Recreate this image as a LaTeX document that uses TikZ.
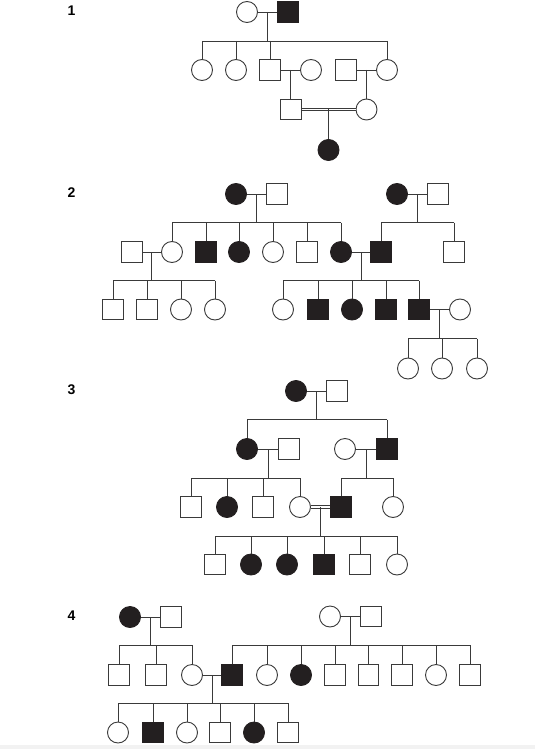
\documentclass[tikz,border=0pt]{standalone}
\usepackage{fontspec}
\setmainfont{Liberation Sans}
\usetikzlibrary{calc}
\definecolor{ln}{HTML}{3A3A3A}
\definecolor{fl}{HTML}{231F20}
\begin{document}
\begin{tikzpicture}[x=1pt,y=-1pt,
  ind/.style={draw=ln,line width=0.9pt,inner sep=0pt,fill=white},
  msq/.style={ind,rectangle,minimum size=20.5pt},
  fci/.style={ind,circle,minimum size=21pt},
  affd/.style={fill=fl,draw=fl},
  conn/.style={draw=ln,line width=0.9pt},
  cons/.style={draw=ln,line width=0.8pt,double=white,double distance=1.7pt},
  lab/.style={font=\bfseries\fontsize{14}{14}\selectfont,inner sep=0pt}]
\useasboundingbox (0,0) rectangle (535,749);
\fill[gray!10] (0,745) rectangle (535,749);

% labels
\node[lab] (L1) at (71.5,11) {1};
\node[lab] (L2) at (71.5,193) {2};
\node[lab] (L3) at (71.5,390) {3};
\node[lab] (L4) at (71.5,616) {4};

% ================= Panel 1
\node[fci] (p1a) at (247,12) {};
\node[msq,affd] (p1b) at (288,12) {};
\node[fci] (p1c1) at (202,70) {};
\node[fci] (p1c2) at (236,70) {};
\node[msq] (p1c3) at (270,70) {};
\node[fci] (p1c4) at (311,70) {};
\node[msq] (p1c5) at (346,70) {};
\node[fci] (p1c6) at (387,70) {};
\node[msq] (p1g1) at (291,109.5) {};
\node[fci] (p1g2) at (366.5,109.5) {};
\node[fci,affd] (p1h1) at (328.5,150) {};

\draw[conn] (p1a.east) -- (p1b.west);
\coordinate (p1m) at ($(p1a.east)!.5!(p1b.west)$);
\coordinate (p1s) at (p1m |- 0,41);
\draw[conn] (p1m) -- (p1s);
\draw[conn] (p1c1.north |- p1s) -- (p1c6.north |- p1s);
\foreach \c in {p1c1,p1c2,p1c3,p1c6} \draw[conn] (\c.north |- p1s) -- (\c.north);
\draw[conn] (p1c3.east) -- (p1c4.west);
\coordinate (p1m2) at ($(p1c3.east)!.5!(p1c4.west)$);
\draw[conn] (p1m2) -- (p1m2 |- p1g1.north);
\draw[conn] (p1c5.east) -- (p1c6.west);
\coordinate (p1m3) at ($(p1c5.east)!.5!(p1c6.west)$);
\draw[conn] (p1m3) -- (p1m3 |- p1g2.north);
\draw[cons] (p1g1.east) -- (p1g2.west);
\coordinate (p1m4) at ($(p1g1.east)!.5!(p1g2.west)$);
\draw[conn] (p1m4) -- (p1m4 |- p1h1.north);

% ================= Panel 2
\node[fci,affd] (q1) at (236,194) {};
\node[msq] (q2) at (277,194) {};
\node[fci,affd] (q3) at (397,194) {};
\node[msq] (q4) at (438,194) {};
\node[msq] (r0) at (132,252) {};
\node[fci] (r1) at (172,252) {};
\node[msq,affd] (r2) at (206,252) {};
\node[fci,affd] (r3) at (239,252) {};
\node[fci] (r4) at (273,252) {};
\node[msq] (r5) at (307,252) {};
\node[fci,affd] (r6) at (341,252) {};
\node[msq,affd] (r7) at (381,252) {};
\node[msq] (r8) at (454,252) {};
\node[msq] (s1) at (113,309.5) {};
\node[msq] (s2) at (147,309.5) {};
\node[fci] (s3) at (181,309.5) {};
\node[fci] (s4) at (215,309.5) {};
\node[fci] (s5) at (283,309.5) {};
\node[msq,affd] (s6) at (318,309.5) {};
\node[fci,affd] (s7) at (352,309.5) {};
\node[msq,affd] (s8) at (386,309.5) {};
\node[msq,affd] (s9) at (419,309.5) {};
\node[fci] (s10) at (460,309.5) {};
\node[fci] (t1) at (408,368.5) {};
\node[fci] (t2) at (442,368.5) {};
\node[fci] (t3) at (477,368.5) {};

\draw[conn] (q1.east) -- (q2.west);
\coordinate (q12m) at ($(q1.east)!.5!(q2.west)$);
\coordinate (q12s) at (q12m |- 0,222.5);
\draw[conn] (q12m) -- (q12s);
\draw[conn] (r1.north |- q12s) -- (r6.north |- q12s);
\foreach \c in {r1,r2,r3,r4,r5,r6} \draw[conn] (\c.north |- q12s) -- (\c.north);

\draw[conn] (q3.east) -- (q4.west);
\coordinate (q34m) at ($(q3.east)!.5!(q4.west)$);
\coordinate (q34s) at (q34m |- 0,222.5);
\draw[conn] (q34m) -- (q34s);
\draw[conn] (r7.north |- q34s) -- (r8.north |- q34s);
\foreach \c in {r7,r8} \draw[conn] (\c.north |- q34s) -- (\c.north);

\draw[conn] (r0.east) -- (r1.west);
\coordinate (r01m) at ($(r0.east)!.5!(r1.west)$);
\coordinate (r01s) at (r01m |- 0,280.5);
\draw[conn] (r01m) -- (r01s);
\draw[conn] (s1.north |- r01s) -- (s4.north |- r01s);
\foreach \c in {s1,s2,s3,s4} \draw[conn] (\c.north |- r01s) -- (\c.north);

\draw[conn] (r6.east) -- (r7.west);
\coordinate (r67m) at ($(r6.east)!.5!(r7.west)$);
\coordinate (r67s) at (r67m |- 0,280.5);
\draw[conn] (r67m) -- (r67s);
\draw[conn] (s5.north |- r67s) -- (s9.north |- r67s);
\foreach \c in {s5,s6,s7,s8,s9} \draw[conn] (\c.north |- r67s) -- (\c.north);

\draw[conn] (s9.east) -- (s10.west);
\coordinate (s910m) at ($(s9.east)!.5!(s10.west)$);
\coordinate (s910s) at (s910m |- 0,338.5);
\draw[conn] (s910m) -- (s910s);
\draw[conn] (t1.north |- s910s) -- (t3.north |- s910s);
\foreach \c in {t1,t2,t3} \draw[conn] (\c.north |- s910s) -- (\c.north);

% ================= Panel 3
\node[fci,affd] (a1) at (296,391) {};
\node[msq] (a2) at (337,391) {};
\node[fci,affd] (b1) at (247,449) {};
\node[msq] (b2) at (289,449) {};
\node[fci] (b3) at (345,449) {};
\node[msq,affd] (b4) at (387,449) {};
\node[msq] (c1) at (191,507) {};
\node[fci,affd] (c2) at (227,507) {};
\node[msq] (c3) at (263,507) {};
\node[fci] (c4) at (300,507) {};
\node[msq,affd] (c5) at (341,507) {};
\node[fci] (c6) at (393,507) {};
\node[msq] (d1) at (215,564.5) {};
\node[fci,affd] (d2) at (251,564.5) {};
\node[fci,affd] (d3) at (287,564.5) {};
\node[msq,affd] (d4) at (324,564.5) {};
\node[msq] (d5) at (360,564.5) {};
\node[fci] (d6) at (397,564.5) {};

\draw[conn] (a1.east) -- (a2.west);
\coordinate (a12m) at ($(a1.east)!.5!(a2.west)$);
\coordinate (a12s) at (a12m |- 0,419.5);
\draw[conn] (a12m) -- (a12s);
\draw[conn] (b1.north |- a12s) -- (b4.north |- a12s);
\foreach \c in {b1,b4} \draw[conn] (\c.north |- a12s) -- (\c.north);

\draw[conn] (b1.east) -- (b2.west);
\coordinate (b12m) at ($(b1.east)!.5!(b2.west)$);
\coordinate (b12s) at (b12m |- 0,478);
\draw[conn] (b12m) -- (b12s);
\draw[conn] (c1.north |- b12s) -- (c4.north |- b12s);
\foreach \c in {c1,c2,c3,c4} \draw[conn] (\c.north |- b12s) -- (\c.north);

\draw[conn] (b3.east) -- (b4.west);
\coordinate (b34m) at ($(b3.east)!.5!(b4.west)$);
\coordinate (b34s) at (b34m |- 0,478);
\draw[conn] (b34m) -- (b34s);
\draw[conn] (c5.north |- b34s) -- (c6.north |- b34s);
\foreach \c in {c5,c6} \draw[conn] (\c.north |- b34s) -- (\c.north);

\draw[cons] (c4.east) -- (c5.west);
\coordinate (c45m) at ($(c4.east)!.5!(c5.west)$);
\coordinate (c45s) at (c45m |- 0,536);
\draw[conn] (c45m) -- (c45s);
\draw[conn] (d1.north |- c45s) -- (d6.north |- c45s);
\foreach \c in {d1,d2,d3,d4,d5,d6} \draw[conn] (\c.north |- c45s) -- (\c.north);

% ================= Panel 4
\node[fci,affd] (e1) at (130,617) {};
\node[msq] (e2) at (171,617) {};
\node[fci] (e3) at (330,616.5) {};
\node[msq] (e4) at (371,616.5) {};
\node[msq] (f1) at (119,675) {};
\node[msq] (f2) at (156,675) {};
\node[fci] (f3) at (192,675) {};
\node[msq,affd] (f4) at (232,675) {};
\node[fci] (f5) at (267,675) {};
\node[fci,affd] (f6) at (301,675) {};
\node[msq] (f7) at (335,675) {};
\node[msq] (f8) at (368.5,675) {};
\node[msq] (f9) at (402,675) {};
\node[fci] (f10) at (436,675) {};
\node[msq] (f11) at (470,675) {};
\node[fci] (g1) at (118,732.5) {};
\node[msq,affd] (g2) at (153,732.5) {};
\node[fci] (g3) at (187,732.5) {};
\node[msq] (g4) at (220,732.5) {};
\node[fci,affd] (g5) at (254,732.5) {};
\node[msq] (g6) at (288,732.5) {};

\draw[conn] (e1.east) -- (e2.west);
\coordinate (e12m) at ($(e1.east)!.5!(e2.west)$);
\coordinate (e12s) at (e12m |- 0,645);
\draw[conn] (e12m) -- (e12s);
\draw[conn] (f1.north |- e12s) -- (f3.north |- e12s);
\foreach \c in {f1,f2,f3} \draw[conn] (\c.north |- e12s) -- (\c.north);

\draw[conn] (e3.east) -- (e4.west);
\coordinate (e34m) at ($(e3.east)!.5!(e4.west)$);
\coordinate (e34s) at (e34m |- 0,645);
\draw[conn] (e34m) -- (e34s);
\draw[conn] (f4.north |- e34s) -- (f11.north |- e34s);
\foreach \c in {f4,f5,f6,f7,f8,f9,f10,f11} \draw[conn] (\c.north |- e34s) -- (\c.north);

\draw[conn] (f3.east) -- (f4.west);
\coordinate (f34m) at ($(f3.east)!.5!(f4.west)$);
\coordinate (f34s) at (f34m |- 0,703);
\draw[conn] (f34m) -- (f34s);
\draw[conn] (g1.north |- f34s) -- (g6.north |- f34s);
\foreach \c in {g1,g2,g3,g4,g5,g6} \draw[conn] (\c.north |- f34s) -- (\c.north);
\end{tikzpicture}
\end{document}
